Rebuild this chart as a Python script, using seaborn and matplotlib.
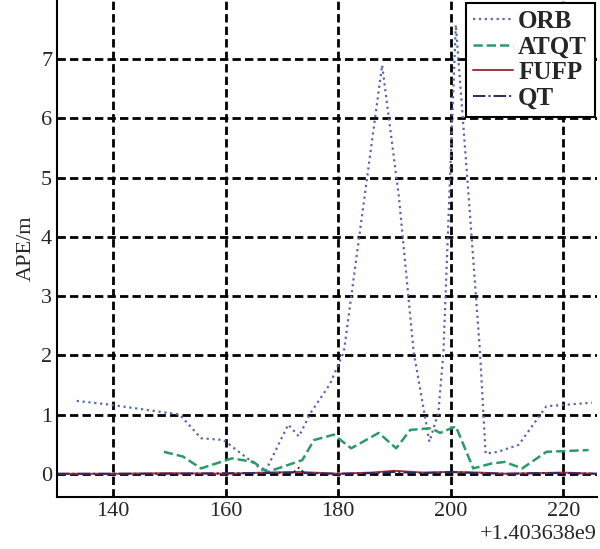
import numpy as np
import pandas as pd
import matplotlib
matplotlib.use("Agg")
import matplotlib.pyplot as plt
import seaborn as sns

OFFSET = 1.403638e9

orb_x = [133.5, 139.1, 151.8, 155.6, 159.6, 167.0, 171.1, 173.0, 175.1, 178.5, 181.0, 187.8, 190.8,
         193.4, 196.2, 197.8, 198.7, 200.9, 203.2, 205.2, 206.2, 208.4, 212.1, 217.0, 225.1]
orb_y = [1.23, 1.17, 1.0, 0.6, 0.57, 0.03, 0.83, 0.63, 1.03, 1.51, 2.06, 6.9, 4.66,
         2.06, 0.54, 1.03, 2.06, 7.58, 4.66, 2.06, 0.34, 0.37, 0.49, 1.14, 1.2]

atqt_x = [149.0, 152.4, 155.6, 161.1, 164.9, 167.4, 173.6, 175.7, 179.2, 182.3, 187.2, 190.3,
          192.8, 196.5, 198.1, 200.9, 204.0, 207.1, 209.6, 212.7, 217.0, 224.5]
atqt_y = [0.37, 0.29, 0.09, 0.26, 0.2, 0.03, 0.23, 0.57, 0.66, 0.43, 0.69, 0.43,
          0.74, 0.77, 0.69, 0.8, 0.09, 0.17, 0.2, 0.09, 0.37, 0.4]

fufp_x = [130, 140, 150, 160, 167, 173, 180, 186, 190, 195, 200, 205, 210, 215, 220, 226]
fufp_y = [0.0, 0.0, 0.01, 0.0, 0.02, 0.03, 0.0, 0.02, 0.05, 0.02, 0.03, 0.02, 0.0, 0.01, 0.02, 0.0]

qt_x = [130, 140, 150, 160, 167, 172, 173, 174, 180, 186, 190, 195, 200, 205, 210, 215, 220, 226]
qt_y = [0.0, 0.0, 0.0, 0.01, 0.01, 0.02, 0.1, 0.01, 0.0, 0.01, 0.03, 0.01, 0.03, 0.01, 0.0, 0.01, 0.01, 0.0]

sns.set_style("white")
plt.rcParams['font.family'] = ['Liberation Serif', 'DejaVu Sans']

fig, ax = plt.subplots(figsize=(6.0, 5.49), dpi=100)

sns.lineplot(x=np.array(orb_x) + OFFSET, y=orb_y, ax=ax, color='#5868a8', linestyle=':', linewidth=1.6, label='ORB')
sns.lineplot(x=np.array(atqt_x) + OFFSET, y=atqt_y, ax=ax, color='#2a9a6a', linestyle='--', linewidth=1.8, label='ATQT')
sns.lineplot(x=np.array(fufp_x) + OFFSET, y=fufp_y, ax=ax, color='#a83040', linestyle='-', linewidth=1.4, label='FUFP')
sns.lineplot(x=np.array(qt_x) + OFFSET, y=qt_y, ax=ax, color='#2a2a60', linestyle='-.', linewidth=1.4, label='QT')

ax.set_xlim(130 + OFFSET, 226 + OFFSET)
ax.set_ylim(-0.39, 8.0)
ax.set_xticks(np.array([140, 160, 180, 200, 220]) + OFFSET)
ax.set_yticks(range(0, 8))
ax.grid(True, color='black', linestyle=(0, (3, 1.5)), linewidth=2)
ax.set_ylabel('APE/m', fontsize=16)
ax.tick_params(labelsize=16, length=0)
ax.xaxis.get_offset_text().set_fontsize(16)
for s in ['top', 'right']:
    ax.spines[s].set_visible(False)
for s in ['left', 'bottom']:
    ax.spines[s].set_color('black')
    ax.spines[s].set_linewidth(1.5)

leg = ax.legend(loc='upper right', bbox_to_anchor=(1.0, 1.0), frameon=True, framealpha=1,
                fancybox=False, edgecolor='black', handlelength=1.6, handletextpad=0.2,
                borderpad=0.3, borderaxespad=0.1, labelspacing=0.1,
                prop={'size': 18, 'weight': 'bold'})
leg.get_frame().set_linewidth(1.5)

plt.subplots_adjust(left=0.095, right=0.995, top=1.0, bottom=0.095)
plt.savefig("out.png", dpi=100)
